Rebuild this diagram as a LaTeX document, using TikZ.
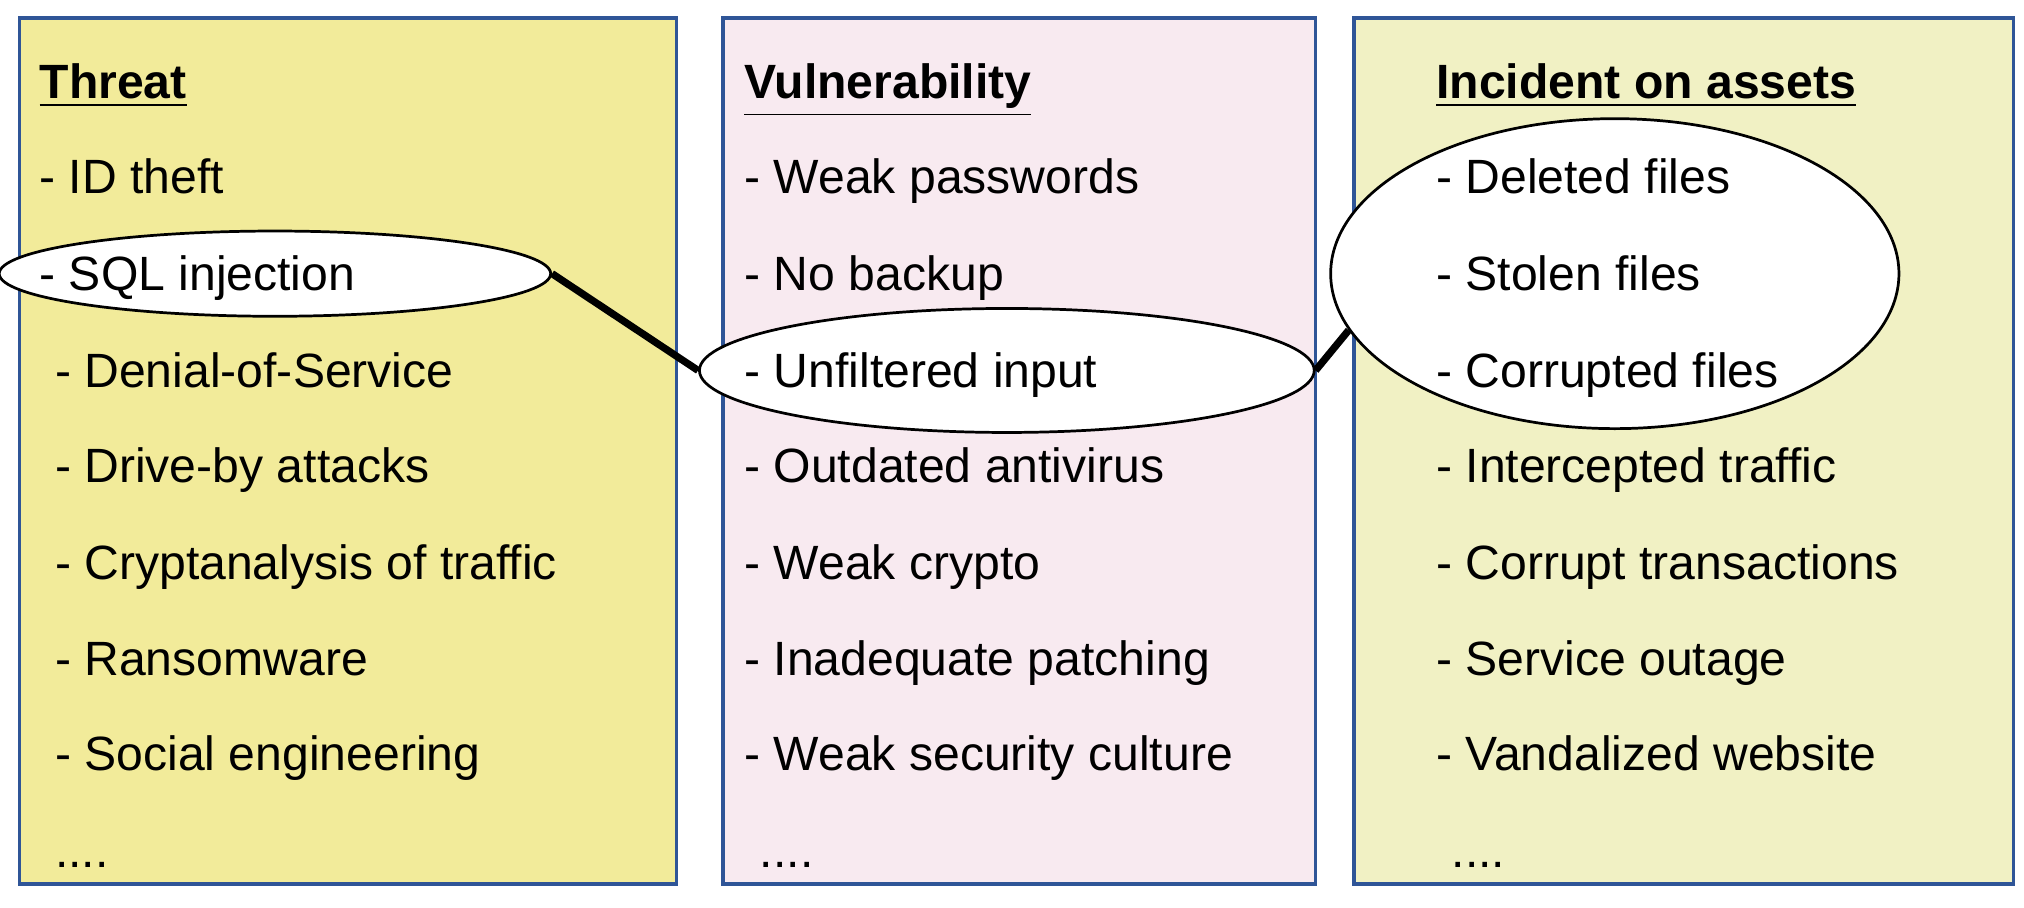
\documentclass[tikz,border=0pt]{standalone}
\usepackage{fontspec}
\setmainfont{Liberation Sans}
\usetikzlibrary{shapes.geometric}
\definecolor{c1}{HTML}{F2EB9A}
\definecolor{c2}{HTML}{F8EAF0}
\definecolor{c3}{HTML}{F1F1C4}
\definecolor{bd}{HTML}{2F5597}
\begin{document}
\begin{tikzpicture}[x=0.01cm,y=-0.01cm,
  box/.style={draw=bd,line width=0.8pt},
  el/.style={ellipse,draw=black,fill=white,line width=0.6pt,inner sep=0pt},
  t/.style={anchor=base west,inner sep=0pt,font=\fontsize{10.6}{12}\selectfont},
  ttl/.style={t,font=\fontsize{10.6}{12}\selectfont\bfseries},
  lk/.style={line width=1.6pt}]
\useasboundingbox (0,0) rectangle (1568,703);
\draw[box,fill=c1] (15,14) rectangle (524,685);
\draw[box,fill=c2] (560,14) rectangle (1019,685);
\draw[box,fill=c3] (1049,14) rectangle (1560,685);
\node[el,minimum width=4.27cm,minimum height=0.66cm] (e1) at (213,212) {};
\node[el,minimum width=4.76cm,minimum height=0.96cm] (e2) at (780,287) {};
\node[el,minimum width=4.40cm,minimum height=2.40cm] (e3) at (1251,212) {};
\draw[lk] (e1.east) -- (e2.west);
\draw[lk] (e2.east) -- (e3.192);
% column 1
\node[ttl] (a0) at (30,76) {\underline{Threat}};
\node[t] (a1) at (30,150) {- ID theft};
\node[t] (a2) at (30,225) {- SQL injection};
\node[t] (a3) at (42,300) {- Denial-of-Service};
\node[t] (a4) at (42,374) {- Drive-by attacks};
\node[t] (a5) at (42,449) {- Cryptanalysis of traffic};
\node[t] (a6) at (42,523) {- Ransomware};
\node[t] (a7) at (42,597) {- Social engineering};
\node[t] (a8) at (42,672) {....};
% column 2
\node[ttl] (b0) at (576,76) {\underline{Vulnerability}};
\node[t] (b1) at (576,150) {- Weak passwords};
\node[t] (b2) at (576,225) {- No backup};
\node[t] (b3) at (576,300) {- Unfiltered input};
\node[t] (b4) at (576,374) {- Outdated antivirus};
\node[t] (b5) at (576,449) {- Weak crypto};
\node[t] (b6) at (576,523) {- Inadequate patching};
\node[t] (b7) at (576,597) {- Weak security culture};
\node[t] (b8) at (588,672) {....};
% column 3
\node[ttl] (c0) at (1112,76) {\underline{Incident on assets}};
\node[t] (c1) at (1112,150) {- Deleted files};
\node[t] (c2) at (1112,225) {- Stolen files};
\node[t] (c3) at (1112,300) {- Corrupted files};
\node[t] (c4) at (1112,374) {- Intercepted traffic};
\node[t] (c5) at (1112,449) {- Corrupt transactions};
\node[t] (c6) at (1112,523) {- Service outage};
\node[t] (c7) at (1112,597) {- Vandalized website};
\node[t] (c8) at (1124,672) {....};
\end{tikzpicture}
\end{document}
